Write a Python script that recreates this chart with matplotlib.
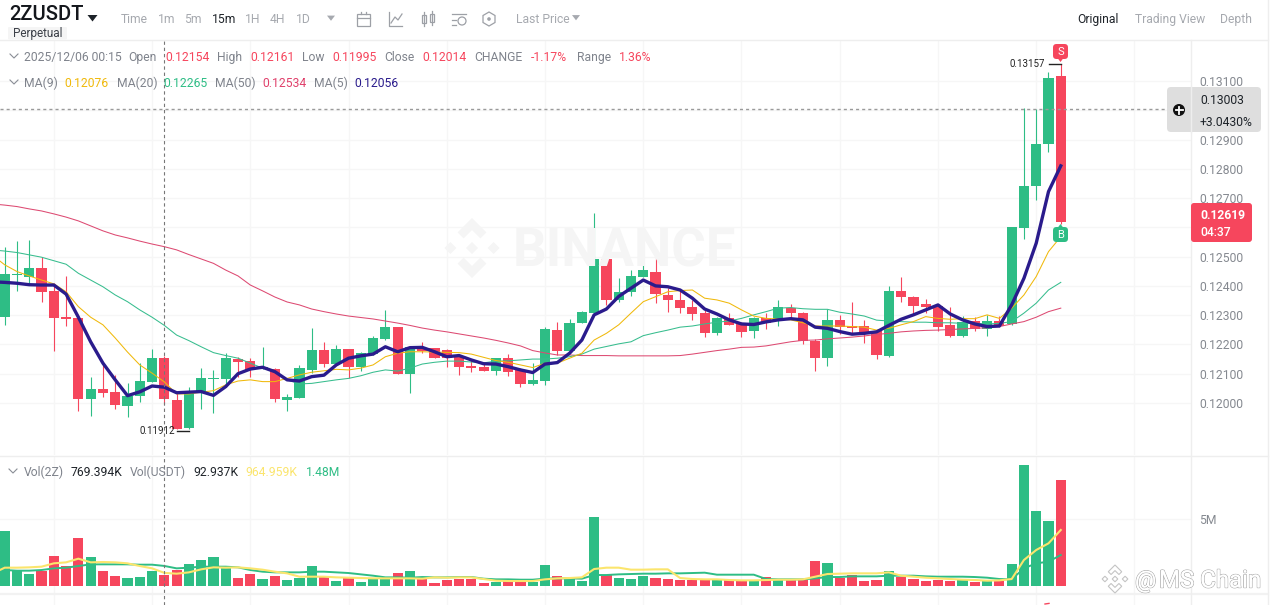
import matplotlib
matplotlib.use("Agg")
import matplotlib.pyplot as plt
import matplotlib.patheffects as pe
from matplotlib.patches import FancyBboxPatch, Polygon, Circle, Rectangle
import numpy as np

plt.rcParams['font.family'] = ['Roboto', 'DejaVu Sans']

# 15m candles
opens = [.12295,.12437,.12431,.12460,.12383,.12293,.12289,.12014,.12047,.12037,
         .11990,.12024,.12073,.12154,.12010,.11914,.12039,.12082,.12082,.12150,
         .12143,.12120,.12116,.12009,.12018,.12113,.12181,.12134,.12184,.12124,
         .12166,.12218,.12260,.12100,.12185,.12187,.12181,.12158,.12127,.12124,
         .12110,.12154,.12113,.12066,.12075,.12249,.12179,.12274,.12307,.12491,
         .12352,.12380,.12432,.12449,.12369,.12352,.12328,.12306,.12240,.12289,
         .12272,.12246,.12289,.12284,.12324,.12309,.12212,.12153,.12284,.12263,
         .12263,.12247,.12162,.12383,.12363,.12337,.12331,.12265,.12229,.12280,
         .12252,.12280,.12269,.12598,.12740,.12884,.13116]
highs = [.12533,.12553,.12557,.12500,.12410,.12434,.12291,.12090,.12136,.12096,
         .12067,.12137,.12184,.12161,.12034,.12056,.12119,.12113,.12170,.12157,
         .12154,.12192,.12118,.12031,.12130,.12255,.12207,.12198,.12185,.12175,
         .12229,.12317,.12261,.12196,.12207,.12188,.12185,.12167,.12147,.12136,
         .12155,.12166,.12119,.12138,.12259,.12278,.12286,.12314,.12648,.12492,
         .12426,.12454,.12517,.12511,.12392,.12386,.12352,.12325,.12295,.12306,
         .12278,.12293,.12306,.12352,.12338,.12312,.12218,.12320,.12301,.12344,
         .12284,.12249,.12400,.12432,.12364,.12354,.12335,.12329,.12297,.12294,
         .12301,.12297,.12602,.13007,.13005,.13130,.13157]
lows = [.12267,.12384,.12403,.12346,.12179,.12264,.11974,.11957,.12022,.11980,
        .11951,.12004,.12073,.11995,.11912,.11912,.11978,.11967,.12056,.12090,
        .12090,.12116,.12004,.11974,.12017,.12104,.12124,.12130,.12086,.12110,
        .12165,.12215,.12098,.12035,.12170,.12153,.12124,.12096,.12105,.12109,
        .12096,.12093,.12056,.12061,.12061,.12164,.12178,.12273,.12307,.12335,
        .12344,.12366,.12430,.12341,.12312,.12306,.12284,.12224,.12232,.12265,
        .12224,.12221,.12253,.12263,.12289,.12202,.12110,.12126,.12235,.12238,
        .12204,.12149,.12158,.12346,.12301,.12306,.12246,.12226,.12226,.12247,
        .12229,.12261,.12267,.12560,.12694,.12857,.12612]
closes = [.12441,.12441,.12460,.12379,.12289,.12287,.12014,.12048,.12035,.11993,
          .12025,.12076,.12154,.12014,.11912,.12037,.12084,.12085,.12153,.12141,
          .12113,.12123,.12014,.12019,.12119,.12181,.12134,.12185,.12124,.12172,
          .12222,.12260,.12100,.12192,.12178,.12155,.12153,.12124,.12121,.12110,
          .12154,.12107,.12066,.12078,.12253,.12179,.12274,.12312,.12491,.12352,
          .12380,.12434,.12454,.12371,.12352,.12326,.12305,.12238,.12291,.12266,
          .12244,.12289,.12272,.12327,.12306,.12212,.12153,.12284,.12261,.12257,
          .12244,.12164,.12383,.12363,.12332,.12327,.12261,.12230,.12277,.12252,
          .12280,.12264,.12600,.12741,.12885,.13111,.12619]

# the lines run in from one candle left of the frame, hence one extra first value
ma5 = [.12414,
       .12412,.12409,.12404,.12403,.12403,.12372,.12293,.12209,.12136,.12079,
       .12025,.12038,.12058,.12054,.12035,.12037,.12039,.12026,.12056,.12100,
       .12116,.12122,.12107,.12079,.12075,.12090,.12095,.12130,.12153,.12161,
       .12167,.12192,.12175,.12189,.12190,.12175,.12158,.12162,.12147,.12134,
       .12133,.12124,.12113,.12104,.12133,.12138,.12170,.12215,.12301,.12321,
       .12364,.12392,.12420,.12400,.12397,.12386,.12358,.12321,.12304,.12284,
       .12270,.12268,.12277,.12284,.12288,.12284,.12259,.12255,.12244,.12235,
       .12238,.12243,.12265,.12286,.12301,.12318,.12335,.12304,.12284,.12270,
       .12261,.12263,.12335,.12426,.12546,.12722,.12810]
ma9 = [.12505,
       .12472,.12449,.12434,.12420,.12407,.12380,.12329,.12293,.12267,.12222,
       .12174,.12130,.12102,.12072,.12031,.12031,.12037,.12042,.12062,.12075,
       .12079,.12073,.12073,.12084,.12096,.12105,.12110,.12115,.12113,.12119,
       .12130,.12158,.12170,.12175,.12175,.12174,.12173,.12172,.12167,.12156,
       .12145,.12139,.12130,.12121,.12136,.12136,.12153,.12170,.12215,.12238,
       .12267,.12307,.12346,.12363,.12380,.12384,.12386,.12358,.12352,.12341,
       .12318,.12297,.12289,.12287,.12284,.12274,.12263,.12263,.12263,.12261,
       .12259,.12249,.12255,.12267,.12278,.12295,.12289,.12286,.12288,.12288,
       .12301,.12289,.12324,.12369,.12432,.12517,.12568]
ma20 = [.12523,
        .12519,.12514,.12506,.12498,.12486,.12474,.12443,.12420,.12397,.12369,
        .12346,.12318,.12293,.12265,.12232,.12213,.12192,.12172,.12162,.12153,
        .12136,.12119,.12107,.12079,.12065,.12067,.12073,.12079,.12084,.12093,
        .12105,.12113,.12109,.12119,.12133,.12139,.12143,.12143,.12140,.12137,
        .12143,.12144,.12147,.12150,.12150,.12153,.12158,.12167,.12184,.12193,
        .12202,.12209,.12230,.12240,.12249,.12259,.12263,.12270,.12276,.12280,
        .12289,.12301,.12312,.12324,.12326,.12322,.12320,.12320,.12310,.12304,
        .12297,.12283,.12280,.12278,.12276,.12276,.12274,.12274,.12272,.12272,
        .12270,.12272,.12278,.12307,.12341,.12386,.12412]
ma50 = [.12680,
        .12676,.12671,.12663,.12656,.12646,.12635,.12622,.12605,.12588,.12574,
        .12564,.12553,.12543,.12534,.12523,.12507,.12492,.12477,.12454,.12434,
        .12403,.12383,.12362,.12345,.12335,.12321,.12312,.12304,.12297,.12292,
        .12287,.12280,.12273,.12265,.12256,.12249,.12243,.12236,.12229,.12222,
        .12214,.12205,.12195,.12179,.12171,.12164,.12164,.12162,.12162,.12162,
        .12161,.12161,.12161,.12161,.12161,.12162,.12167,.12173,.12179,.12184,
        .12190,.12191,.12195,.12202,.12209,.12214,.12215,.12219,.12222,.12225,
        .12229,.12234,.12238,.12243,.12246,.12248,.12249,.12251,.12253,.12255,
        .12257,.12261,.12270,.12278,.12293,.12312,.12324]

# volume in millions
volume = [4.1,1.1,.85,1.125,2.25,1.475,3.55,2.15,1.1,.75,
          .6,.675,1.125,.82,1.2,1.65,1.9,2.175,1.35,.55,
          .85,.5,.725,.425,.575,1.475,.675,.35,.625,.3,
          .475,.55,.975,1.075,.49,.225,.425,.525,.525,.2,
          .3,.325,.325,.3,1.55,.7,.55,.375,5.125,.8,
          .575,.475,.725,.575,.5,.425,.425,.425,.425,.4,
          .4,.35,.675,.425,.425,.425,1.85,1.7,.6,.8,
          .375,.425,1.1,.65,.5,.35,.45,.35,.425,.3,
          .35,.35,1.625,9.05,5.625,4.875,7.9]
vol_ma_yellow = [.9,
                 1.35,1.35,1.375,1.425,1.675,1.75,2.025,1.75,1.775,1.75,
                 1.675,1.475,1.3,.96,.9,1.0,1.225,1.375,1.35,1.375,
                 1.3,1.2,1.05,.925,.675,.675,.675,.625,.6,.575,
                 .55,.55,.55,.55,.525,.625,.6,.625,.625,.5,
                 .375,.35,.35,.35,.475,.55,.575,.625,1.25,1.35,
                 1.35,1.2,1.2,1.225,1.225,.575,.5,.475,.475,.425,
                 .4,.4,.425,.45,.45,.475,.675,.875,.9,.925,
                 .925,.925,1.0,.75,.675,.6,.55,.5,.45,.425,
                 .375,.4,.5,1.925,2.675,3.175,4.175]
vol_ma_green = [1.15,
                1.175,1.125,1.125,1.175,1.3,1.35,1.475,1.6,1.6,1.6,
                1.6,1.575,1.575,1.48,1.3,1.35,1.425,1.425,1.425,1.375,
                1.175,1.05,1.0,1.0,1.0,1.05,1.05,1.0,.95,.85,
                .75,.625,.625,.6,.65,.625,.625,.65,.65,.525,
                .475,.475,.45,.45,.525,.55,.55,.525,.8,.8,
                .85,.875,.9,.9,.925,.925,.95,.975,.825,.825,
                .825,.825,.5,.475,.475,.475,.55,.65,.65,.7,
                .7,.7,.75,.75,.75,.7,.675,.675,.675,.65,
                .6,.5,.475,1.3,1.675,1.8,2.3]

price_ticks = [.120,.121,.122,.123,.124,.125,.126,.127,.128,.129,.130,.131]
hidden_ticks = [.126, .130]  # sit under the two price tags
grid_candles = [4,12,20,28,36,44,52,60,68,76,84,92]
cross_idx = 13
cross_price = .13003

UP = '#2ebd85'
DOWN = '#f6465d'
GRID = '#f6f6f6'
LINE = '#eeeeee'
GREY = '#7f838c'
LIGHT = '#a6a9af'
W, H = 1271, 605

fig = plt.figure(figsize=(W/100, H/100), dpi=100)
fig.patch.set_facecolor('white')

# the axes are placed in pixels so the candles fall in the same columns
def place(left, top, right, bottom):
    return [left/W, 1-bottom/H, (right-left)/W, (bottom-top)/H]

ax = fig.add_axes(place(0, 40, 1190.7, 455))
vax = fig.add_axes(place(0, 456, 1190.7, 605))
idx = np.arange(len(closes))
line_x = np.arange(-1, len(closes))
o, h, l, c = map(np.array, (opens, highs, lows, closes))
colors = [UP if c[i] >= o[i] else DOWN for i in idx]

ax.set_xlim(-0.383, 96.58)
ax.set_ylim(.118223, .13240)
ax.vlines(idx, l, h, colors=colors, lw=0.8, zorder=2)
ax.bar(idx, np.maximum(np.abs(c-o), .00004), bottom=np.minimum(o, c), width=.83,
       color=colors, zorder=3)
ax.plot(line_x, ma50, color='#dd4a72', lw=.75, zorder=4)
ax.plot(line_x, ma20, color='#37bd8e', lw=.75, zorder=4)
ax.plot(line_x, ma9, color='#f0b90b', lw=.75, zorder=4)
ax.plot(line_x, ma5, color='#2a1b8c', lw=2.4, zorder=5, solid_joinstyle='round')

ax.yaxis.tick_right()
ax.set_yticks(price_ticks)
ax.set_yticklabels(['' if p in hidden_ticks else '%.5f' % p for p in price_ticks],
                   fontsize=8.7, color='#858990')
ax.tick_params(axis='y', length=0, pad=6)
ax.set_xticks(grid_candles)
ax.set_xticklabels([])
ax.tick_params(axis='x', length=0)
ax.grid(True, color=GRID, lw=1)
ax.set_axisbelow(True)
for s in ax.spines.values():
    s.set_visible(False)
ax.axhline(cross_price, color='#9a9a9a', lw=1, ls=(0, (2.2, 2.2)), zorder=6)
ax.axvline(cross_idx, color='#777777', lw=.8, ls=(0, (3, 2.6)), zorder=6)

vax.set_xlim(-0.383, 96.58)
vax.set_ylim(-1.447, 9.72)
vax.bar(idx, volume, width=.83, color=colors, zorder=3)
vax.plot(line_x, vol_ma_green, color='#2ebd85', lw=1.4, zorder=4)
vax.plot(line_x, vol_ma_yellow, color='#fbe56d', lw=1.5, zorder=5)
vax.yaxis.tick_right()
vax.set_yticks([5])
vax.set_yticklabels(['5M'], fontsize=8.7, color='#858990')
vax.tick_params(axis='y', length=0, pad=6)
vax.set_xticks(grid_candles)
vax.set_xticklabels([])
vax.tick_params(axis='x', length=0)
vax.grid(True, color=GRID, lw=1)
vax.set_axisbelow(True)
for s in vax.spines.values():
    s.set_visible(False)
vax.axvline(cross_idx, color='#777777', lw=.8, ls=(0, (3, 2.6)), zorder=6)

# everything that is page furniture goes on a pixel overlay
ui = fig.add_axes([0, 0, 1, 1], zorder=10)
ui.set_xlim(0, W)
ui.set_ylim(H, 0)
ui.axis('off')
ui.patch.set_alpha(0)


def txt(x, y, s, color=GREY, size=8.7, ha='left', **kw):
    # baseline anchored so brackets and slashes do not shift a row
    return ui.text(x, y+size*.49, s, color=color, fontsize=size, ha=ha, va='baseline', **kw)


def box(x0, y0, x1, y1, color, r=3, z=3):
    ui.add_patch(FancyBboxPatch((x0, y0), x1-x0, y1-y0, boxstyle='round,pad=0,rounding_size=%g' % r,
                                fc=color, ec='none', zorder=z))


def tri(x, y, s, color):
    ui.add_patch(Polygon([(x-s, y-s*.6), (x+s, y-s*.6), (x, y+s*.7)], fc=color, ec='none'))


def chevron(x, y):
    ui.plot([x-4, x, x+4], [y-2, y+2, y-2], color='#8a8e96', lw=.8)


def logo(cx, cy, r, fc, ec='none', lw=0, z=0):
    top = [(0, -1), (.48, -.52), (.28, -.32), (0, -.6), (-.28, -.32), (-.48, -.52)]
    bottom = [(a, -b) for a, b in top]
    dia = [(0, -.2), (.2, 0), (0, .2), (-.2, 0)]
    for shape, dx in ((top, 0), (bottom, 0), (dia, 0), (dia, .72), (dia, -.72)):
        pts = [(cx+(a+dx)*r, cy+b*r) for a, b in shape]
        ui.add_patch(Polygon(pts, fc=fc, ec=ec, lw=lw, zorder=z))


# frame lines
ui.plot([0, 1268], [39.5, 39.5], color=LINE, lw=1)
ui.plot([0, 1268], [455.5, 455.5], color=LINE, lw=1)
ui.plot([0, 1268], [593.5, 593.5], color='#f2f2f2', lw=1.6)
ui.plot([1190.7, 1190.7], [40, 605], color=LINE, lw=1)
ui.plot([1268, 1268], [0, 605], color=LINE, lw=1)

# watermarks
logo(472, 248, 30, '#f5f5f5')
txt(513, 248, 'BINANCE', color='#f5f5f5', size=38, fontweight='bold')
logo(1115, 579, 14, 'white', ec='#c4c4c4', lw=.8, z=7)
for x, s, fs in ((1135, '@', 17), (1159, 'MS Chain', 17.3)):
    t = txt(x, 579, s, color='white', size=fs, zorder=7)
    t.set_path_effects([pe.withStroke(linewidth=1.0, foreground='#a8a8a8'), pe.Normal()])
ui.plot([1045, 1049], [604, 603.4], color=DOWN, lw=1)

# toolbar
txt(9, 13, '2ZUSDT', color='#14171c', size=14.5, fontweight='medium')
tri(92.5, 18, 5, '#1e2329')
box(8, 27, 67, 39.5, '#f5f5f5', r=1)
txt(13, 33, 'Perpetual', color='#3c4048', size=8.5, zorder=5)
for x, s in ((121, 'Time'), (158, '1m'), (184, '5m'), (245, '1H'), (270, '4H'), (296, '1D')):
    txt(x, 19, s, color=LIGHT)
txt(212, 19, '15m', color='#1e2329')
tri(331, 18, 4, '#a6a9af')
txt(516, 19, 'Last Price', color=LIGHT)
tri(576, 17.5, 4, '#a6a9af')
# small icons
ic = dict(color='#9da0a6', lw=.9)
ui.add_patch(Rectangle((357, 14), 13, 12, fc='none', ec='#9da0a6', lw=.9))
ui.plot([357, 370], [17.5, 17.5], **ic)
ui.plot([361, 361], [12, 14], **ic)
ui.plot([366, 366], [12, 14], **ic)
ui.plot([389, 389, 402], [12, 26, 26], **ic)
ui.plot([391, 395, 398, 402], [23, 17, 20, 14], **ic)
ui.add_patch(Rectangle((422, 15), 4, 8, fc='none', ec='#9da0a6', lw=.9))
ui.add_patch(Rectangle((430, 14), 4, 8, fc='none', ec='#9da0a6', lw=.9))
ui.plot([424, 424], [12, 26], **ic)
ui.plot([432, 432], [11, 25], **ic)
ui.plot([452, 466], [14, 14], **ic)
ui.plot([452, 456], [20, 20], **ic)
ui.plot([452, 456], [25, 25], **ic)
ui.add_patch(Circle((462, 21), 4, fc='none', ec='#9da0a6', lw=.9))
ui.add_patch(Polygon([(489, 12), (495, 15.5), (495, 22.5), (489, 26), (483, 22.5), (483, 15.5)],
                     fc='none', ec='#9da0a6', lw=.9))
ui.add_patch(Circle((489, 19), 1.8, fc='#9da0a6', ec='none'))
txt(1077, 19, 'Original', color='#1e2329')
txt(1135, 19, 'Trading View', color=LIGHT)
txt(1220, 19, 'Depth', color=LIGHT)

# OHLC legend row
chevron(14, 56)
RED = '#f6465d'
for x, s, col in ((24, '2025/12/06 00:15', GREY), (128, 'Open', GREY), (165, '0.12154', RED),
                  (217, 'High', GREY), (250, '0.12161', RED), (302, 'Low', GREY),
                  (332, '0.11995', RED), (384, 'Close', GREY), (422, '0.12014', RED),
                  (474, 'CHANGE', GREY), (531, '-1.17%', RED), (577, 'Range', GREY),
                  (619, '1.36%', RED)):
    txt(x, 57, s, color=col)
chevron(14, 82)
for x, s, col in ((24, 'MA(9)', GREY), (64, '0.12076', '#f0b90b'), (117, 'MA(20)', GREY),
                  (163, '0.12265', '#2ebd85'), (215, 'MA(50)', GREY), (262, '0.12534', '#e0406b'),
                  (314, 'MA(5)', GREY), (354, '0.12056', '#2a1b8c')):
    txt(x, 83, s, color=col)
chevron(13, 471)
for x, s, col in ((24, 'Vol(2Z)', GREY), (71, '769.394K', '#1e2329'), (130, 'Vol(USDT)', GREY),
                  (193, '92.937K', '#1e2329'), (245, '964.959K', '#fbe56d'), (306, '1.48M', '#2ebd85')):
    txt(x, 472, s, color=col)

# high / low callouts
ui.plot([1049, 1061], [63.8, 63.8], color='#222222', lw=1)
txt(1010, 63.5, '0.13157', color='#222222', size=7)
ui.plot([177, 189], [430.5, 430.5], color='#222222', lw=1)
txt(139, 430.7, '0.11912', color='#222222', size=7)

# buy / sell flags
box(1053, 44, 1068, 59, RED, r=3.5)
ui.add_patch(Polygon([(1057.5, 58), (1063.5, 58), (1060.5, 62)], fc=RED, ec='none'))
txt(1060.5, 51.5, 'S', color='white', size=8, ha='center', zorder=5)
box(1053, 227, 1068, 242, UP, r=3.5)
ui.add_patch(Polygon([(1057.5, 228), (1063.5, 228), (1060.5, 224)], fc=UP, ec='none'))
txt(1060.5, 234.5, 'B', color='white', size=8, ha='center', zorder=5)

# hover price box
box(1167, 87, 1261, 132, '#dedede', r=4)
ui.plot([1190.7, 1190.7], [87, 132], color='#eeeeee', lw=1, zorder=4)
ui.add_patch(Circle((1179, 110), 6, fc='#111111', ec='none', zorder=5))
ui.plot([1175.5, 1182.5], [110, 110], color='white', lw=1.3, zorder=6)
ui.plot([1179, 1179], [106.5, 113.5], color='white', lw=1.3, zorder=6)
txt(1200, 100, '0.13003', color='#1e2329', zorder=5)
txt(1200, 122, '+3.0430%', color='#1e2329', zorder=5)

# last price tag
box(1191, 203, 1252, 242, RED, r=3)
txt(1200, 215, '0.12619', color='white', fontweight='bold', zorder=5)
txt(1200, 232, '04:37', color='white', fontweight='medium', zorder=5)

fig.savefig('out.png', dpi=100)
